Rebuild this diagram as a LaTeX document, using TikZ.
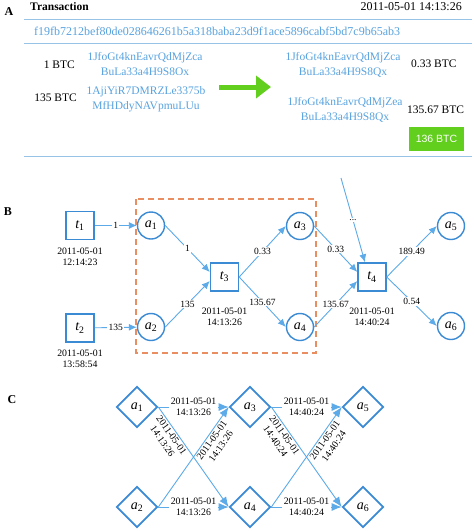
\documentclass[tikz,border=0pt]{standalone}
\usepackage{fontspec}
\setmainfont{Liberation Serif}
\newfontfamily\btcsans{Liberation Sans}
\usetikzlibrary{arrows.meta,positioning,shapes.geometric,backgrounds}

\definecolor{hashblue}{RGB}{88,162,222}
\definecolor{ruleblue}{RGB}{150,195,230}
\definecolor{nodeblue}{RGB}{58,138,212}
\definecolor{edgeblue}{RGB}{92,170,232}
\definecolor{dashorange}{RGB}{232,142,96}
\definecolor{btcgreen}{RGB}{98,206,30}

\newcommand{\nlab}[2]{{\itshape #1}\textsubscript{#2}}

\begin{document}
\begin{tikzpicture}[
  x=1pt, y=-1pt,
  node distance=7.5pt,
  >={Latex[length=8pt,width=7pt]},
  part/.style={font=\bfseries\fontsize{12}{12}\selectfont, inner sep=0pt},
  txn/.style={font=\fontsize{11.5}{15}\selectfont, inner sep=0pt},
  addr/.style={txn, text=hashblue, align=center},
  rule/.style={draw=ruleblue, line width=0.8pt},
  tbox/.style={draw=nodeblue, line width=1.4pt, minimum size=28pt, inner sep=0pt, font=\fontsize{14}{14}\selectfont},
  acirc/.style={circle, draw=nodeblue, line width=1.4pt, minimum size=27pt, inner sep=0pt, font=\fontsize{14}{14}\selectfont},
  adiam/.style={diamond, draw=nodeblue, line width=1.7pt, minimum size=41pt, inner sep=0pt, font=\fontsize{14}{14}\selectfont},
  date/.style={font=\fontsize{9.8}{11}\selectfont, align=center, inner sep=0pt},
  wt/.style={font=\fontsize{9.5}{10}\selectfont, fill=white, inner sep=1.2pt},
  flow/.style={->, draw=edgeblue, line width=0.9pt},
  cflow/.style={-{Latex[length=10pt,width=8pt]}, draw=edgeblue, line width=0.9pt},
  clbl/.style={date, inner sep=1.5pt}]

\useasboundingbox (0,0) rectangle (474,531);

% A : la transaction
\node[part] (lA) at (9,12) {A};
\node[txn, font=\bfseries\fontsize{11.5}{12}\selectfont, anchor=west] (ttl) at (30,7) {Transaction};
\node[txn, font=\fontsize{12}{12}\selectfont, anchor=east] (tdate) at (462,7) {2011-05-01 14:13:26};
\draw[rule] (24,19) -- (472,19);
\node[addr, font=\fontsize{12}{12}\selectfont, anchor=west] (hash) at (34,31.5) {f19fb7212bef80de028646261b5a318baba23d9f1ace5896cabf5bd7c9b65ab3};
\draw[rule] (24,43) -- (472,43);

\node[addr] (in1) at (145,64.5) {1JfoGt4knEavrQdMjZca\\BuLa33a4H9S8Ox};
\node[txn, anchor=east] (v1) at (75,65) {1 BTC};
\node[addr] (in2) at (146,99) {1AjiYiR7DMRZLe3375b\\MfHDdyNAVpmuLUu};
\node[txn, anchor=east] (v2) at (77,98) {135 BTC};

\coordinate (arrS) at (219,87);
\coordinate (arrE) at (271,87);
\draw[-{Triangle[length=15pt,width=22pt]}, btcgreen, line width=5pt] (arrS) -- (arrE);

\node[addr] (out1) at (343,64.5) {1JfoGt4knEavrQdMjZca\\BuLa33a4H9S8Qx};
\node[txn, anchor=west] (w1) at (411,64) {0.33 BTC};
\node[addr] (out2) at (345,110) {1JfoGt4knEavrQdMjZea\\BuLa33a4H9S8Qx};
\node[txn, anchor=west] (w2) at (407,110) {135.67 BTC};
\node[fill=btcgreen, text=white, font=\btcsans\fontsize{10.5}{12}\selectfont, minimum width=55pt, minimum height=24pt, inner sep=0pt] (tot) at (436.5,139) {136 BTC};
\draw[rule] (24,156) -- (472,156);

% B : le graphe des transactions
\node[part] (lB) at (8,212) {B};
\node[tbox] (t1) at (80,225.5) {\nlab{t}{1}};
\node[tbox] (t2) at (80,328) {\nlab{t}{2}};
\node[acirc] (a1) at (151,225.5) {\nlab{a}{1}};
\node[acirc] (a2) at (151,327) {\nlab{a}{2}};
\node[tbox] (t3) at (224.5,277) {\nlab{t}{3}};
\node[acirc] (a3) at (300,226) {\nlab{a}{3}};
\node[acirc] (a4) at (300,327) {\nlab{a}{4}};
\node[tbox] (t4) at (372,277) {\nlab{t}{4}};
\node[acirc] (a5) at (451,226) {\nlab{a}{5}};
\node[acirc] (a6) at (451,326) {\nlab{a}{6}};

\node[date, below=of t1] (d1) {2011-05-01\\12:14:23};
\node[date, below=of t2] (d2) {2011-05-01\\13:58:54};
\node[date, below=16pt of t3] (d3) {2011-05-01\\14:13:26};
\node[date, below=16pt of t4] (d4) {2011-05-01\\14:40:24};

\begin{scope}[on background layer]
  \draw[dashorange, line width=1.2pt, dash pattern=on 6pt off 4pt] (136,199) rectangle (316,353);
\end{scope}

\draw[flow] (t1) -- node[wt]{1} (a1);
\draw[flow] (t2) -- node[wt]{135} (a2);
\draw[flow] (a1.east) -- node[wt]{1} ([yshift=5pt]t3.west);
\draw[flow] (a2.east) -- node[wt]{135} ([yshift=-4pt]t3.west);
\draw[flow] (t3.east) -- node[wt]{0.33} (a3.west);
\draw[flow] (t3.east) -- node[wt]{135.67} (a4.west);
\draw[flow] (a3.east) -- node[wt]{0.33} ([yshift=5pt]t4.west);
\draw[flow] (a4.east) -- node[wt]{135.67} ([yshift=-4pt]t4.west);
\draw[flow] (t4.east) -- node[wt]{189.49} (a5.west);
\draw[flow] (t4.east) -- node[wt]{0.54} (a6.west);
\coordinate (tin) at (341,178);
\draw[flow] (tin) -- node[wt]{...} ([xshift=-7pt]t4.north);

% C : le graphe des adresses
\node[part] (lC) at (12,400) {C};
\node[adiam] (c1) at (137,407) {\nlab{a}{1}};
\node[adiam] (c2) at (137,507) {\nlab{a}{2}};
\node[adiam] (c3) at (250,407) {\nlab{a}{3}};
\node[adiam] (c4) at (250,507) {\nlab{a}{4}};
\node[adiam] (c5) at (363,407) {\nlab{a}{5}};
\node[adiam] (c6) at (363,507) {\nlab{a}{6}};

\draw[cflow] (c1) -- node[clbl, fill=white]{2011-05-01\\14:13:26} (c3);
\draw[cflow] (c2) -- node[clbl, fill=white]{2011-05-01\\14:13:26} (c4);
\draw[cflow] (c1.east) -- node[clbl, sloped, below, pos=.25]{2011-05-01\\14:13:26} (c4.west);
\draw[cflow] (c2.east) -- node[clbl, sloped, below, pos=.7]{2011-05-01\\14:13:26} (c3.west);
\draw[cflow] (c3) -- node[clbl, fill=white]{2011-05-01\\14:40:24} (c5);
\draw[cflow] (c4) -- node[clbl, fill=white]{2011-05-01\\14:40:24} (c6);
\draw[cflow] (c3.east) -- node[clbl, sloped, below, pos=.25]{2011-05-01\\14:40:24} (c6.west);
\draw[cflow] (c4.east) -- node[clbl, sloped, below, pos=.7]{2011-05-01\\14:40:24} (c5.west);

\end{tikzpicture}
\end{document}
